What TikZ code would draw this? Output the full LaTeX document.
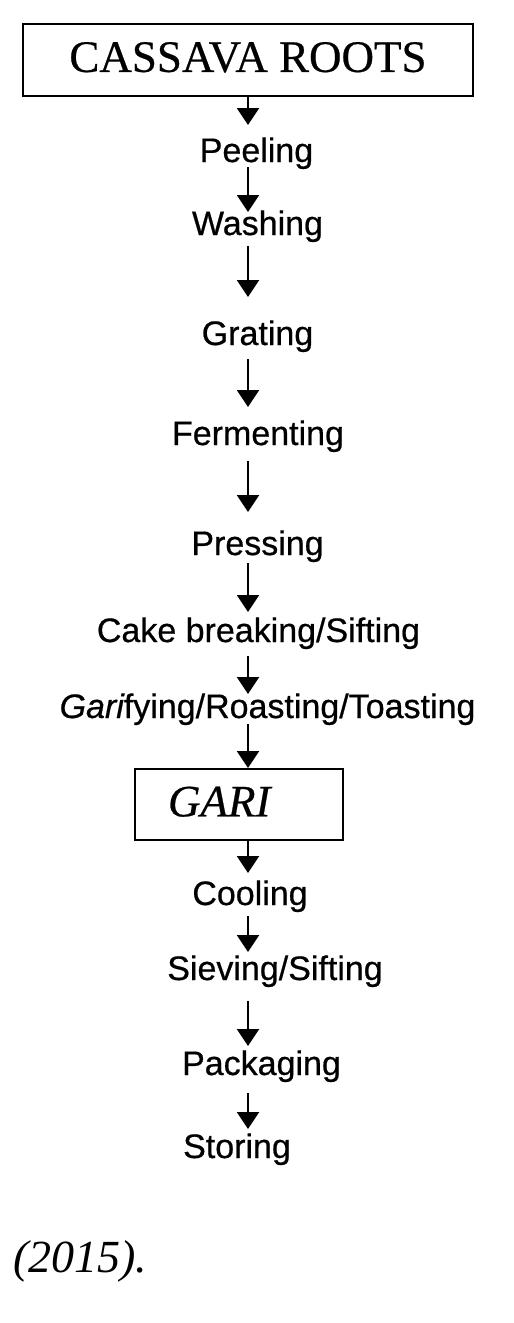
\documentclass[tikz,border=0pt]{standalone}
\usepackage{fontspec}
\setmainfont{Liberation Sans}
\newfontfamily\stepsans{Liberation Sans}[FakeBold=0.6]
\newfontfamily\tnr{Liberation Serif}
\newfontfamily\tnrbox{Liberation Serif}[FakeBold=0.5]
\usetikzlibrary{arrows.meta}
\newcommand{\stepfont}{\stepsans\fontsize{34}{40}\selectfont}
\newcommand{\boxfont}{\tnrbox\fontsize{45}{50}\selectfont}

\begin{document}
\begin{tikzpicture}[x=1pt,y=-1pt,line width=2pt,
    >={Triangle[width=22pt,length=17pt]},
    lbl/.style={anchor=base,inner sep=0pt,text height=25pt,text depth=7pt,font=\stepfont},
    prodbox/.style={draw,line width=2pt,inner sep=0pt,text depth=6pt,font=\boxfont}]
    \useasboundingbox (0,0) rectangle (514,1323);
    \coordinate (ax) at (248,0);
    \node (roots) at (248,60) [prodbox,minimum width=450pt,minimum height=72pt] {CASSAVA ROOTS};
    \node (peel)  at (256.5,162)  [lbl] {Peeling};
    \node (wash)  at (257.5,235)  [lbl] {Washing};
    \node (grat)  at (257.5,345)  [lbl] {Grating};
    \node (ferm)  at (258,445)    [lbl] {Fermenting};
    \node (press) at (257.5,555)  [lbl] {Pressing};
    \node (cake)  at (258.5,642)  [lbl] {Cake breaking/Sifting};
    \node (roast) at (267.5,718)  [lbl] {{\itshape Gari}fying/Roasting/Toasting};
    \node (gari)  at (239,804.5)  [prodbox,minimum height=71pt,text width=142pt,align=left,inner xsep=33pt] {\itshape GARI};
    \node (cool)  at (250,905)    [lbl] {Cooling};
    \node (sieve) at (275,980)    [lbl] {Sieving/Sifting};
    \node (pack)  at (261.5,1075) [lbl] {Packaging};
    \node (store) at (237,1158)   [lbl] {Storing};
    \node (src)   at (12,1272) [anchor=base west,inner sep=0pt,font=\tnr\itshape\fontsize{46}{50}\selectfont] {(2015).};
    \foreach \a/\b/\s/\e in {roots/peel/0/11, peel/wash/-3/-3, wash/grat/3/22,
        grat/ferm/6/12, ferm/press/8/17, press/cake/0/4, cake/roast/6/-2,
        roast/gari/-2/0, gari/cool/0/6, cool/sieve/3/2, sieve/pack/13/3, pack/store/10/3}
      \draw[->,shorten <=\s pt,shorten >=\e pt] (\a.south -| ax) -- (\b.north -| ax);
\end{tikzpicture}
\end{document}
